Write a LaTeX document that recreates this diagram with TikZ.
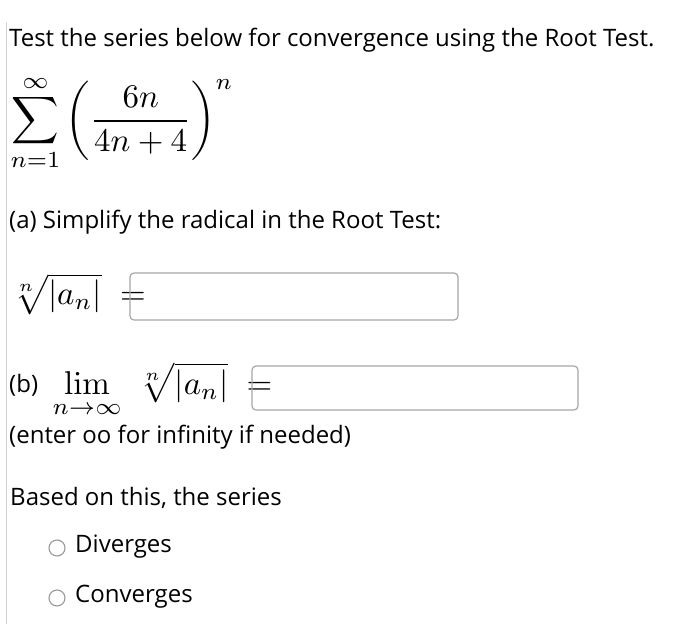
\documentclass[tikz,border=0pt]{standalone}
\usepackage{amsmath}
\usepackage[no-math]{fontspec}
\setmainfont{Open Sans}
\begin{document}
\begin{tikzpicture}[x=1pt,y=-1pt,
  txt/.style={anchor=west,inner sep=0pt,font=\fontsize{24}{28}\selectfont},
  mth/.style={anchor=west,inner sep=0pt,scale=3.3,transform shape},
  ansbox/.style={draw=gray!70,line width=1.2pt,rounded corners=4pt},
  radio/.style={draw=gray!80,line width=1.1pt,circle,minimum size=16pt,inner sep=0pt},
  rule/.style={draw=gray!35,line width=1pt}]
\useasboundingbox (0,0) rectangle (694,624);
\draw[rule] (6,22) coordinate (lt) -- (6,624) coordinate (lb);
\node[txt] (title) at (9,40) {Test the series below for convergence using the Root Test.};
\node[mth] (sum) at (10,123) {$\displaystyle\sum_{n=1}^{\infty}\left(\frac{6n}{4n+4}\right)^{n}$};
\node[txt] (pa) at (9,222) {(a) Simplify the radical in the Root Test:};
\node[mth] (ra) at (9,294) {$\sqrt[n]{|a_n|}\;=$};
\draw[ansbox] (130,273) rectangle (458,320);
\node[txt] (pb) at (9,385) {(b)};
\node[mth] (rb) at (52,390) {$\displaystyle\lim_{n\to\infty}\;\sqrt[n]{|a_n|}\;=$};
\draw[ansbox] (252,366) rectangle (578,410);
\node[txt] (enter) at (9,437) {(enter oo for infinity if needed)};
\node[txt] (based) at (10,498) {Based on this, the series};
\node[radio] (r1) at (57,548) {};
\node[txt] (div) at (75,547) {Diverges};
\node[radio] (r2) at (57,598) {};
\node[txt] (con) at (75,597) {Converges};
\end{tikzpicture}
\end{document}
